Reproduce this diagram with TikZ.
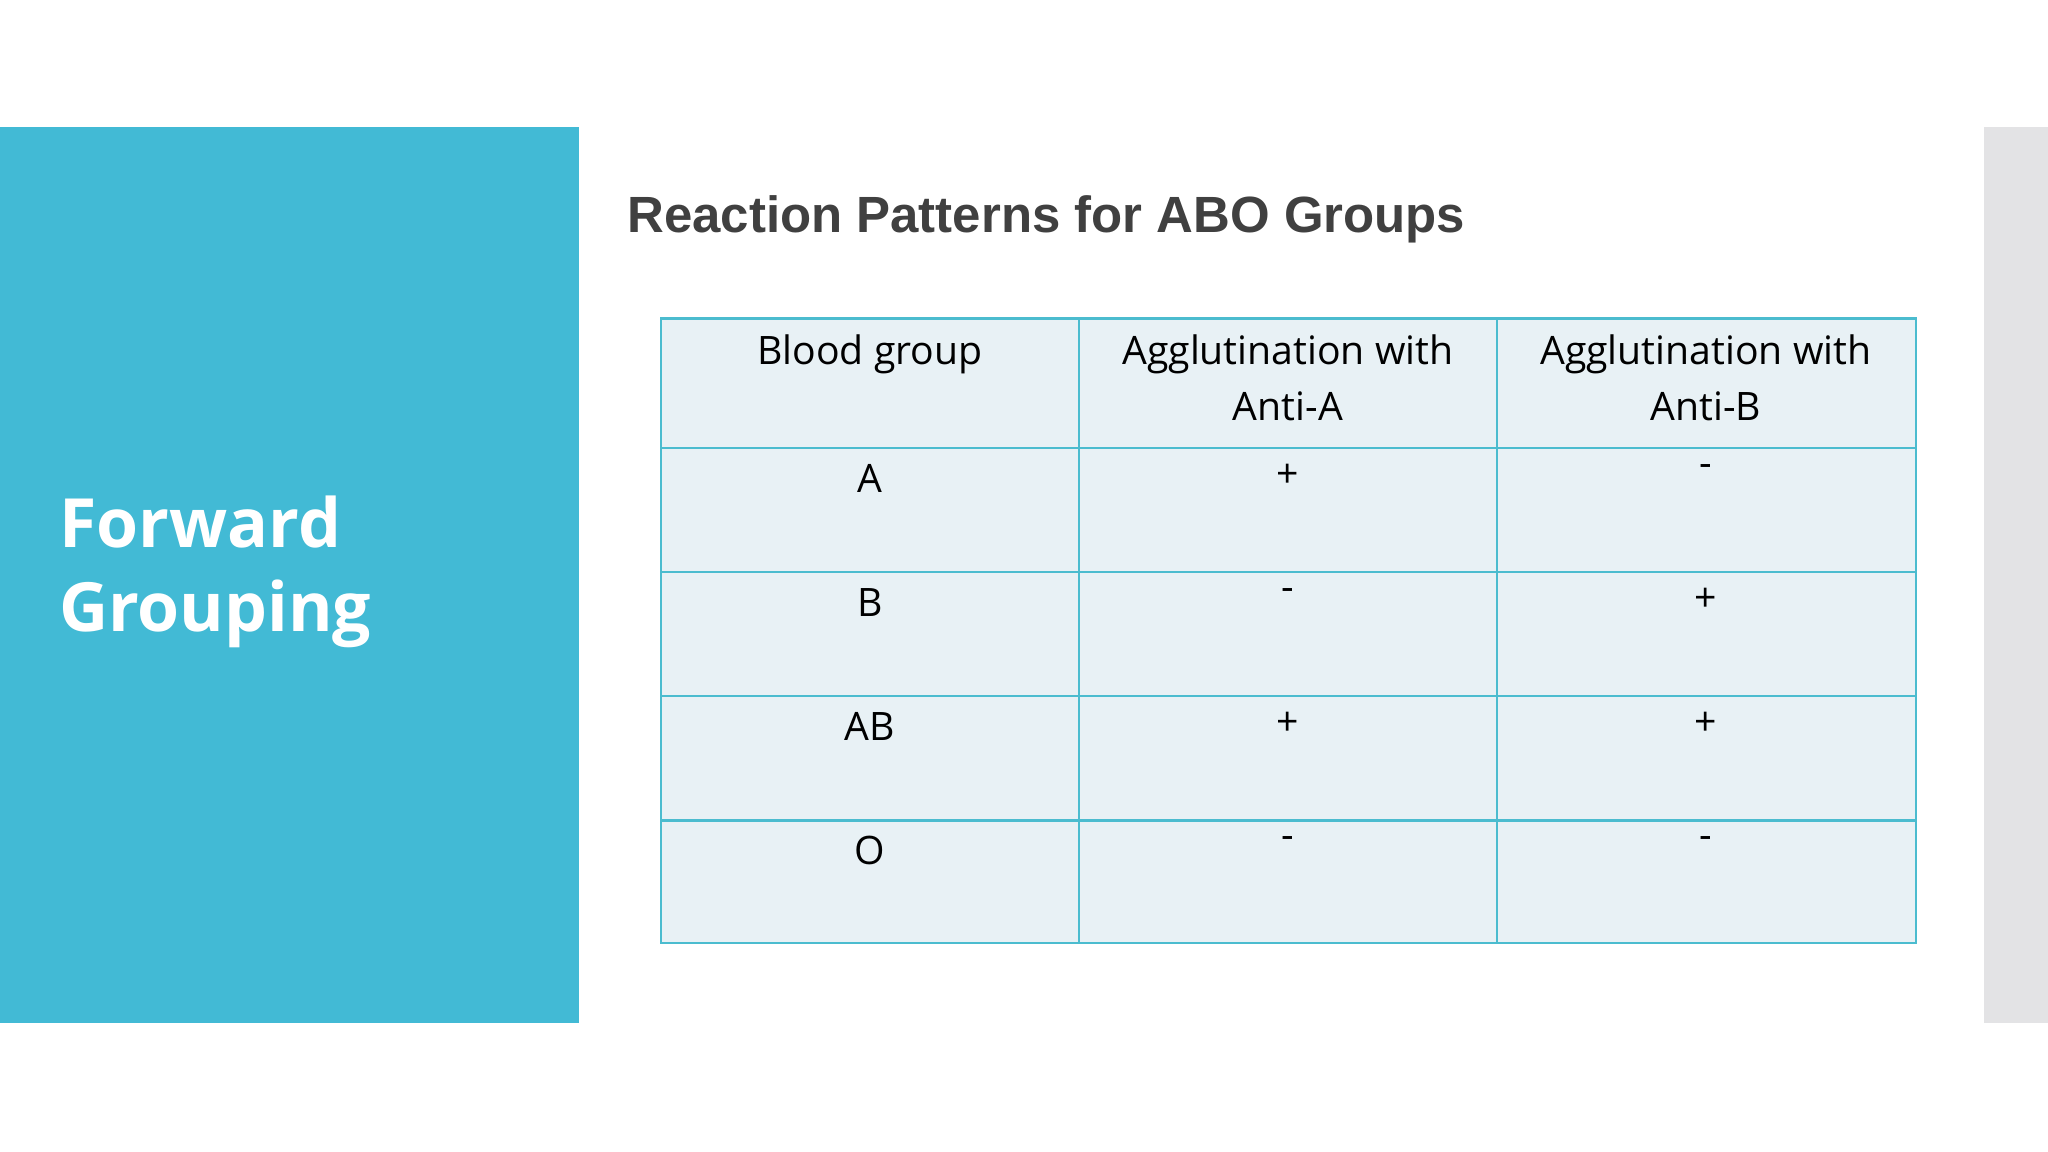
\documentclass[tikz,border=0pt]{standalone}
\usepackage{fontspec}
\setmainfont{Open Sans}
\newfontfamily\titlefont{Liberation Sans}
\definecolor{teal}{HTML}{42BAD5}
\definecolor{cellfill}{HTML}{E8F1F5}
\definecolor{cellline}{HTML}{4BBCCF}
\definecolor{strip}{HTML}{E3E3E5}
\definecolor{titlegray}{HTML}{404040}
\tikzset{
  cell/.style={draw=cellline, line width=1pt, fill=cellfill},
  celltext/.style={anchor=north, align=center, font=\fontsize{15}{21.5}\selectfont, inner sep=0pt, text=black}
}
\begin{document}
\begin{tikzpicture}[x=0.5pt,y=-0.5pt]
\useasboundingbox (0,0) rectangle (1568,882);
\fill[white] (0,0) rectangle (1568,882);
\fill[teal] (0,97) rectangle (443,783);
\fill[strip] (1519,97) rectangle (1568,783);
\node[anchor=west, align=left, text=white, font=\fontsize{26}{32}\selectfont\bfseries, inner sep=0pt] (side) at (45,438) {Forward\\Grouping};
\node[anchor=west, text=titlegray, font=\titlefont\fontsize{19.5}{23}\selectfont\bfseries, inner sep=0pt] (title) at (480,168) {Reaction Patterns for ABO Groups};
\foreach \r/\ya/\yb in {0/244/343,1/343/438,2/438/533,3/533/628,4/628/722}{
  \foreach \c/\xa/\xb in {0/506/826,1/826/1146,2/1146/1467}{
    \draw[cell] (\xa,\ya) rectangle (\xb,\yb);
  }
}
\node[celltext] (h1) at (666,256) {Blood group};
\node[celltext] (h2) at (986,256) {Agglutination with\\Anti-A};
\node[celltext] (h3) at (1306,256) {Agglutination with\\Anti-B};
\node[celltext] (r1a) at (666,355) {A};
\node[celltext] (r1b) at (986,355) {+};
\node[celltext] (r1c) at (1306,355) {-};
\node[celltext] (r2a) at (666,450) {B};
\node[celltext] (r2b) at (986,450) {-};
\node[celltext] (r2c) at (1306,450) {+};
\node[celltext] (r3a) at (666,545) {AB};
\node[celltext] (r3b) at (986,545) {+};
\node[celltext] (r3c) at (1306,545) {+};
\node[celltext] (r4a) at (666,640) {O};
\node[celltext] (r4b) at (986,640) {-};
\node[celltext] (r4c) at (1306,640) {-};
\end{tikzpicture}
\end{document}
